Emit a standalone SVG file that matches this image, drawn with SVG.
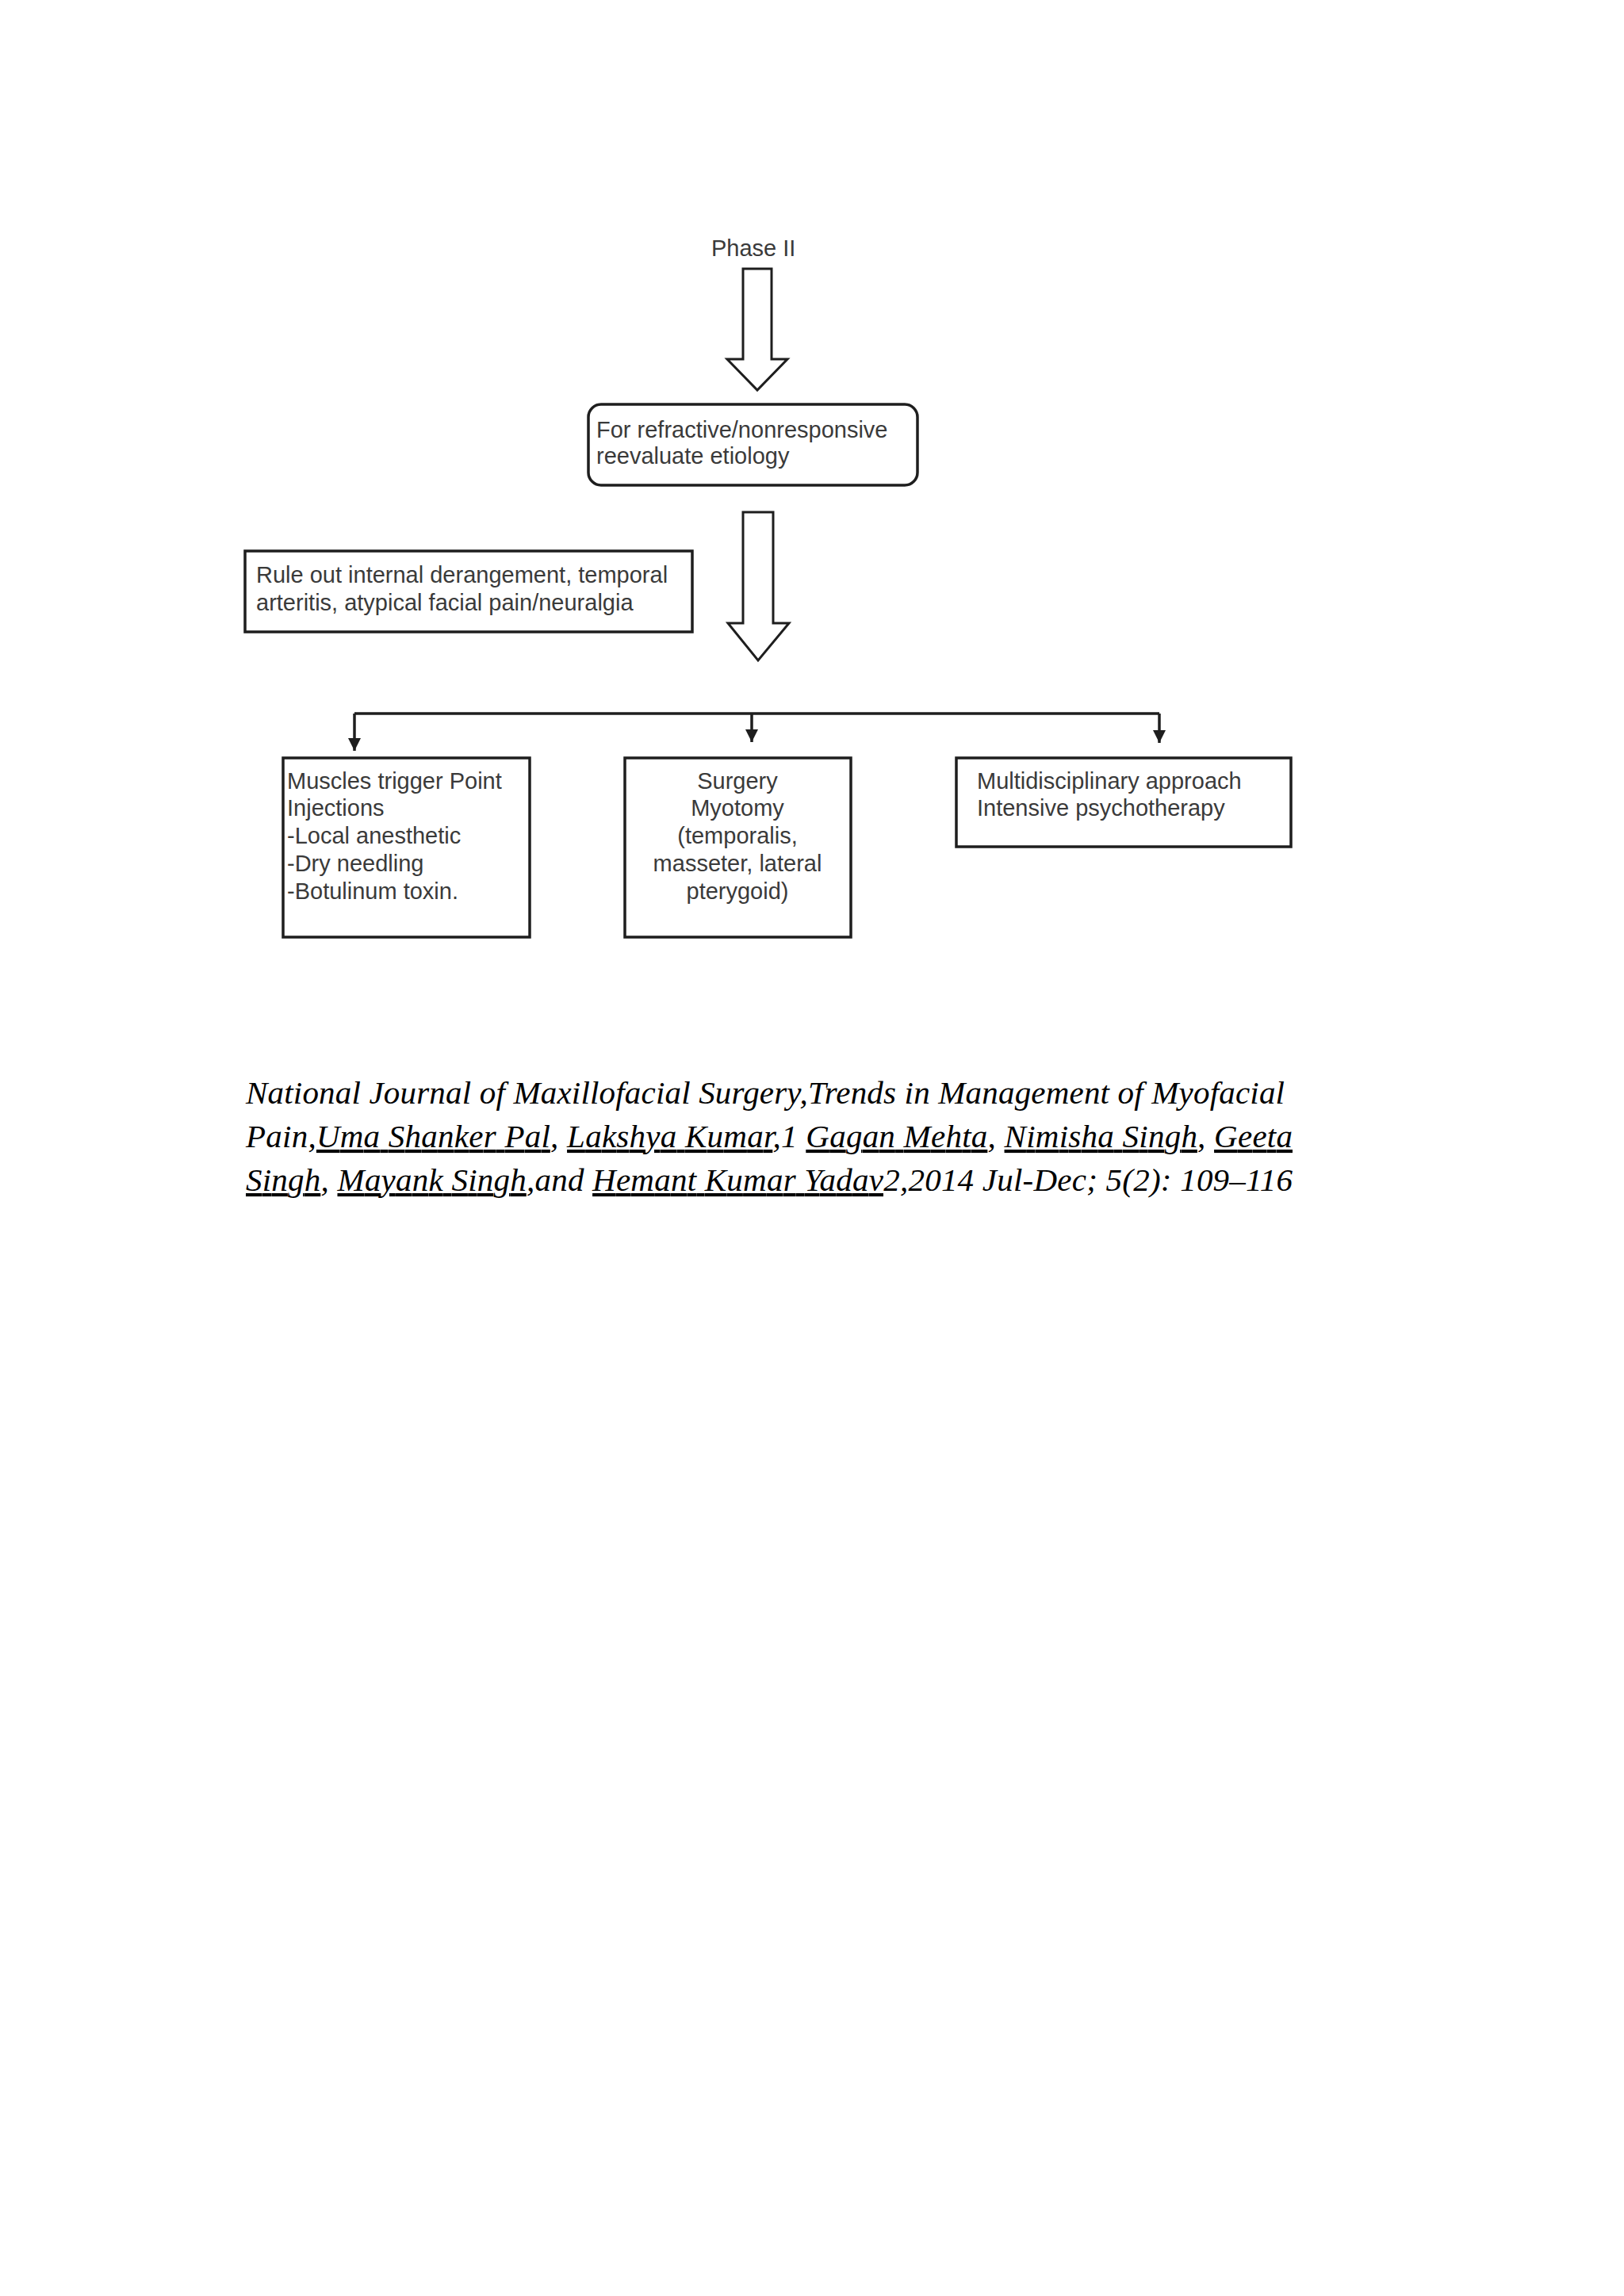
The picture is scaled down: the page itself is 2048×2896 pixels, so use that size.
<svg xmlns="http://www.w3.org/2000/svg" width="2048" height="2896" viewBox="0 0 2048 2896">
<style>
.lbl{font-family:"Liberation Sans",Arial,sans-serif;font-size:29px;fill:#3a3a3a}
.mid{text-anchor:middle}
.box{fill:#fff;stroke:#1e1e1e;stroke-width:3.5}
.big{fill:#fff;stroke:#1e1e1e;stroke-width:3;stroke-linejoin:miter}
.con{fill:none;stroke:#1e1e1e;stroke-width:3.5}
.cap{font-family:"Liberation Serif","Times New Roman",serif;font-style:italic;font-size:41px;fill:#000}
.u{text-decoration:underline}
</style>
<defs>
<marker id="ah" viewBox="0 0 10 10" refX="10" refY="5" markerWidth="16" markerHeight="16" markerUnits="userSpaceOnUse" orient="auto">
<path d="M0,0 L10,5 L0,10 Z" fill="#1e1e1e"/>
</marker>
</defs>
<rect width="2048" height="2896" fill="#fff"/>

<g id="phase2">
<text class="lbl" x="897" y="323">Phase II</text>
</g>

<g id="connectors">
<path class="big" d="M937,339 L973,339 L973,453 L993,453 L955,492 L917,453 L937,453 Z"/>
<path class="big" d="M937,646 L975,646 L975,786 L995,786 L956,833 L918,786 L937,786 Z"/>
<path class="con" d="M447,900 L1462,900"/>
<path class="con" d="M447,900 L447,947" marker-end="url(#ah)"/>
<path class="con" d="M948,900 L948,936" marker-end="url(#ah)"/>
<path class="con" d="M1462,900 L1462,937" marker-end="url(#ah)"/>
</g>

<g id="reevaluate">
<rect class="box" x="742" y="510" width="415" height="102" rx="16" ry="16"/>
<text class="lbl" x="752" y="552">For refractive/nonresponsive</text>
<text class="lbl" x="752" y="585">reevaluate etiology</text>
</g>

<g id="ruleout">
<rect class="box" x="309" y="695" width="564" height="102"/>
<text class="lbl" x="323" y="735">Rule out internal derangement, temporal</text>
<text class="lbl" x="323" y="770">arteritis, atypical facial pain/neuralgia</text>
</g>

<g id="trigger">
<rect class="box" x="357" y="956" width="311" height="226"/>
<text class="lbl" x="362" y="995">Muscles trigger Point</text>
<text class="lbl" x="362" y="1029">Injections</text>
<text class="lbl" x="362" y="1064">-Local anesthetic</text>
<text class="lbl" x="362" y="1099">-Dry needling</text>
<text class="lbl" x="362" y="1134">-Botulinum toxin.</text>
</g>

<g id="surgery">
<rect class="box" x="788" y="956" width="285" height="226"/>
<text class="lbl mid" x="930" y="995">Surgery</text>
<text class="lbl mid" x="930" y="1029">Myotomy</text>
<text class="lbl mid" x="930" y="1064">(temporalis,</text>
<text class="lbl mid" x="930" y="1099">masseter, lateral</text>
<text class="lbl mid" x="930" y="1134">pterygoid)</text>
</g>

<g id="multidisciplinary">
<rect class="box" x="1206" y="956" width="422" height="112"/>
<text class="lbl" x="1232" y="995">Multidisciplinary approach</text>
<text class="lbl" x="1232" y="1029">Intensive psychotherapy</text>
</g>

<g id="caption">
<text class="cap" x="310" y="1392" textLength="1310" lengthAdjust="spacing">National Journal of Maxillofacial  Surgery,Trends in Management of Myofacial</text>
<text class="cap" x="310" y="1447" textLength="1320" lengthAdjust="spacing">Pain,<tspan class="u">Uma Shanker Pal</tspan>, <tspan class="u">Lakshya Kumar</tspan>,1 <tspan class="u">Gagan Mehta</tspan>, <tspan class="u">Nimisha Singh</tspan>, <tspan class="u">Geeta</tspan></text>
<text class="cap" x="310" y="1502" textLength="1320" lengthAdjust="spacing"><tspan class="u">Singh</tspan>, <tspan class="u">Mayank Singh</tspan>,and <tspan class="u">Hemant Kumar Yadav</tspan>2,2014 Jul-Dec;  5(2):  109–116</text>
</g>
</svg>
